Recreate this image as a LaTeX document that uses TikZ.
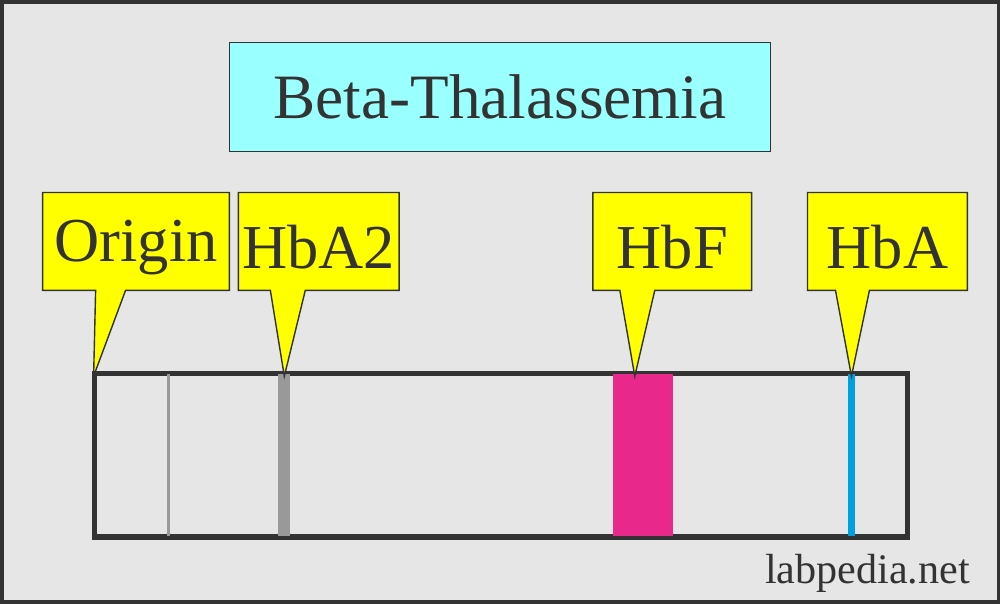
\documentclass[tikz,border=0pt]{standalone}
\usepackage{fontspec}
\setmainfont{Liberation Serif}
\usetikzlibrary{positioning,calc}
\definecolor{bg}{HTML}{E6E6E6}
\definecolor{titlecyan}{HTML}{99FFFF}
\definecolor{callyellow}{HTML}{FFFF00}
\definecolor{bandpink}{HTML}{E8288A}
\definecolor{bandblue}{HTML}{00A0E0}
\definecolor{bandgray}{HTML}{999999}
\definecolor{ink}{HTML}{333333}
\begin{document}
\begin{tikzpicture}[x=0.01cm,y=-0.01cm,
  callout/.style={fill=callyellow,draw=ink,line width=0.4pt},
  lbl/.style={text=ink,font=\fontsize{17.8}{17.8}\selectfont},
  band/.style={draw=none}]

% background
\draw[fill=bg,draw=ink,line width=1pt] (1,1) rectangle (999,602);
\useasboundingbox (0,0) rectangle (1000,603);

% title
\node[draw=ink,fill=titlecyan,minimum width=5.42cm,minimum height=1.09cm,
  font=\fontsize{18}{18}\selectfont,text=ink] (title) at (500,96.5) {Beta-Thalassemia};

% strip
\draw[fill=bg,draw=ink,line width=1.5pt] (94,373) rectangle (908,537);
\coordinate (origin) at (93,376);
\draw[bandgray,line width=1pt] (168,374) -- (168,536);
\fill[bandgray] (278,374) rectangle (290,536);
\fill[bandpink] (613,374) rectangle (673,536);
\fill[bandblue] (849,374) rectangle (856,536);
\coordinate (a2) at (284,376);
\coordinate (f) at (635,376);
\coordinate (a) at (852,376);

% callouts
\foreach \xa/\xb/\pa/\pb/\tip/\name/\txt in {
  42/229/95/125/origin/cOrigin/Origin,
  238/399/270/305/a2/cA2/HbA2,
  593/752/620/655/f/cF/HbF,
  808/968/836/870/a/cA/HbA}{
  \draw[callout] (\xa,192) -- (\xb,192) -- (\xb,290) -- (\pb,290) -- (\tip)
    -- (\pa,290) -- (\xa,290) -- cycle;
  \node[lbl] (\name) at ({(\xa+\xb)/2},247) {\txt};
}

\node[text=ink,font=\fontsize{12}{12}\selectfont] (site) at (868,573) {labpedia.net};
\end{tikzpicture}
\end{document}
